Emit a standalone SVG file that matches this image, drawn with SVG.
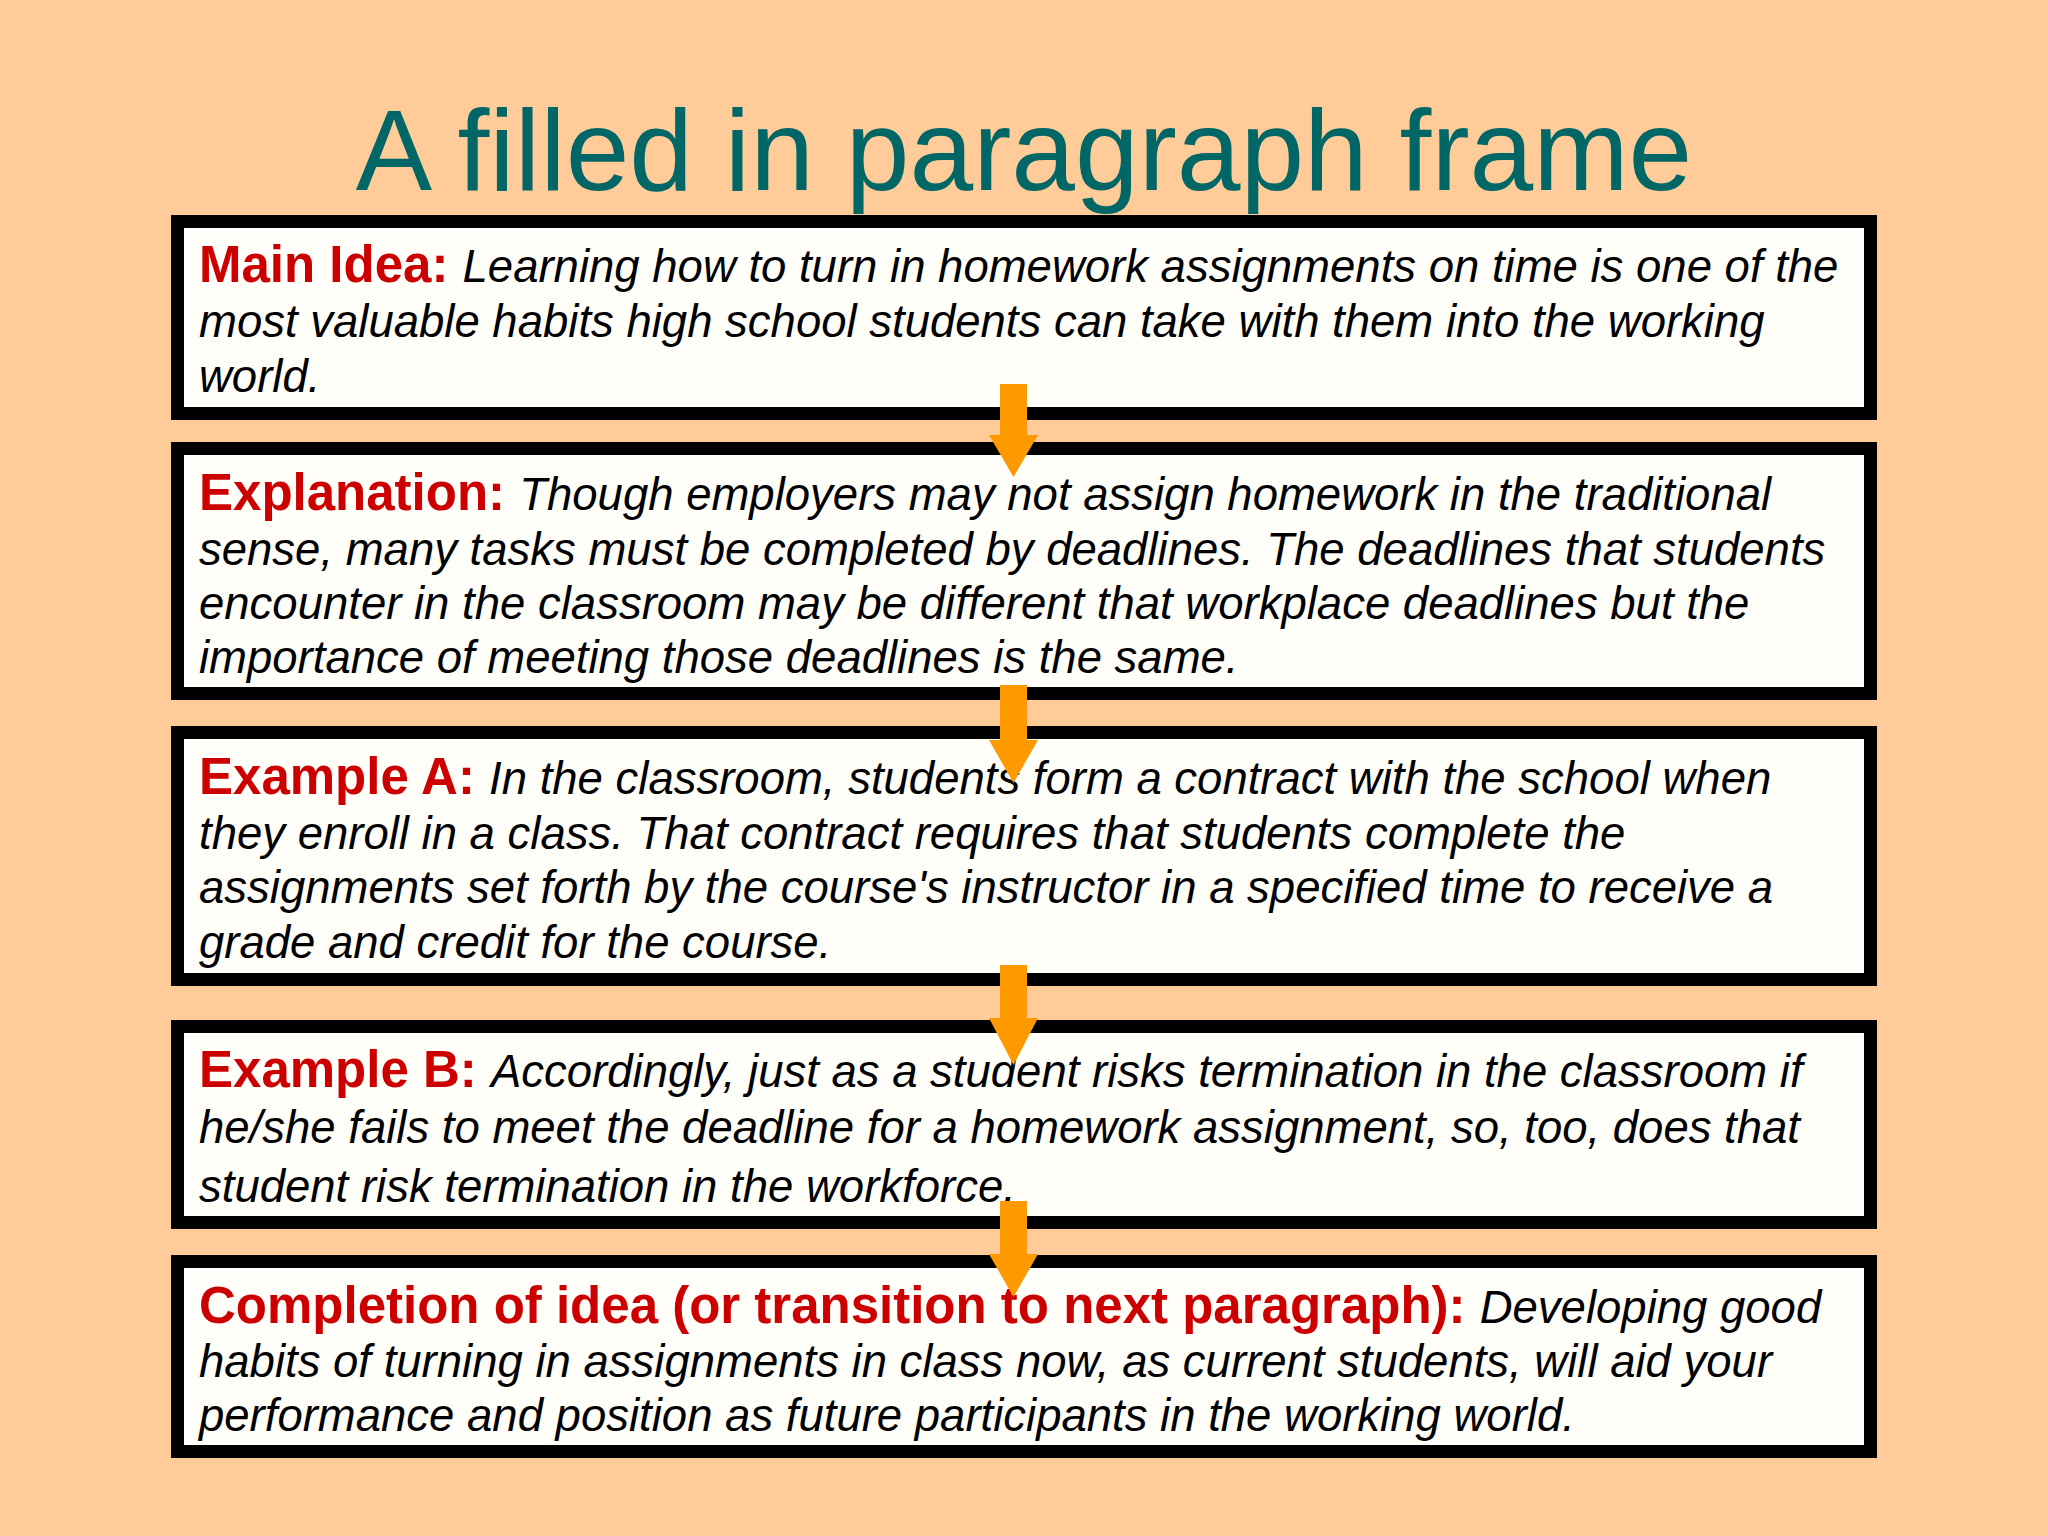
<svg xmlns="http://www.w3.org/2000/svg" width="2048" height="1536" viewBox="0 0 2048 1536">
<style>
.bg{fill:#FFCC99}
.box{fill:#FFFEF8;stroke:#000;stroke-width:13}
.title{font-family:"Liberation Sans",Arial,sans-serif;font-size:114.5px;fill:#006666}
.t{font-family:"Liberation Sans",Arial,sans-serif;font-size:45.5px;font-style:italic;fill:#000}
.lbl{font-weight:bold;font-style:normal;font-size:51px;fill:#CC0000}
.arrow{fill:#FF9900}
</style>
<rect class="bg" x="0" y="0" width="2048" height="1536"/>
<text class="title" x="1024" y="190" text-anchor="middle">A filled in paragraph frame</text>
<g id="main-idea">
<rect class="box" x="177.5" y="221.5" width="1693" height="192"/>
<text class="t" x="199" y="282"><tspan class="lbl">Main Idea: </tspan>Learning how to turn in homework assignments on time is one of the</text>
<text class="t" x="199" y="337">most valuable habits high school students can take with them into the working</text>
<text class="t" x="199" y="392">world.</text>
</g>
<g id="explanation">
<rect class="box" x="177.5" y="448.5" width="1693" height="245"/>
<text class="t" x="199" y="510"><tspan class="lbl">Explanation: </tspan>Though employers may not assign homework in the traditional</text>
<text class="t" x="199" y="565">sense, many tasks must be completed by deadlines. The deadlines that students</text>
<text class="t" x="199" y="619">encounter in the classroom may be different that workplace deadlines but the</text>
<text class="t" x="199" y="673">importance of meeting those deadlines is the same.</text>
</g>
<g id="example-a">
<rect class="box" x="177.5" y="732.5" width="1693" height="247"/>
<text class="t" x="199" y="794"><tspan class="lbl">Example A: </tspan>In the classroom, students form a contract with the school when</text>
<text class="t" x="199" y="849">they enroll in a class. That contract requires that students complete the</text>
<text class="t" x="199" y="903">assignments set forth by the course's instructor in a specified time to receive a</text>
<text class="t" x="199" y="958">grade and credit for the course.</text>
</g>
<g id="example-b">
<rect class="box" x="177.5" y="1026.5" width="1693" height="196"/>
<text class="t" x="199" y="1087"><tspan class="lbl">Example B: </tspan>Accordingly, just as a student risks termination in the classroom if</text>
<text class="t" x="199" y="1143">he/she fails to meet the deadline for a homework assignment, so, too, does that</text>
<text class="t" x="199" y="1202">student risk termination in the workforce.</text>
</g>
<g id="completion">
<rect class="box" x="177.5" y="1261.5" width="1693" height="190"/>
<text class="t" x="199" y="1323"><tspan class="lbl">Completion of idea (or transition to next paragraph): </tspan>Developing good</text>
<text class="t" x="199" y="1377">habits of turning in assignments in class now, as current students, will aid your</text>
<text class="t" x="199" y="1431">performance and position as future participants in the working world.</text>
</g>
<g id="connectors">
<polygon class="arrow" points="1000,384 1027,384 1027,435 1038,435 1013.5,477 989,435 1000,435"/>
<polygon class="arrow" points="1000,685 1027,685 1027,740 1038,740 1013.5,783 989,740 1000,740"/>
<polygon class="arrow" points="1000,965 1027,965 1027,1018 1038,1018 1013.5,1065 989,1018 1000,1018"/>
<polygon class="arrow" points="1000,1201 1027,1201 1027,1254 1038,1254 1013.5,1297 989,1254 1000,1254"/>
</g>
</svg>
